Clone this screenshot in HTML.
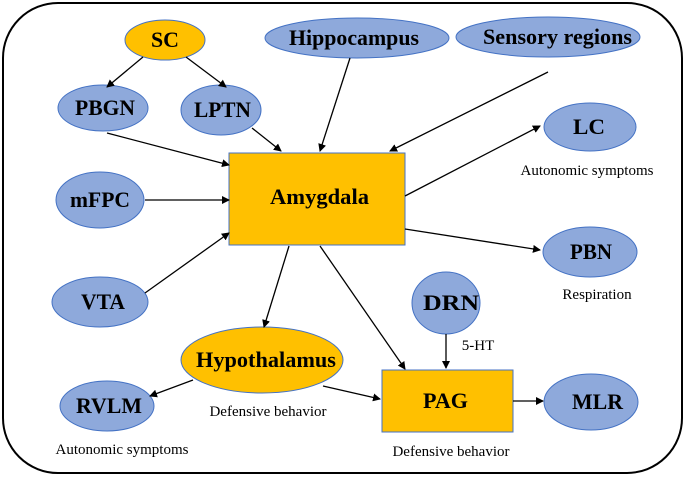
<!DOCTYPE html>
<html><head><style>body{margin:0;background:#fff}svg{display:block}</style></head><body>
<svg width="685" height="478" viewBox="0 0 685 478" xmlns="http://www.w3.org/2000/svg">
<defs><marker id="a" markerWidth="8" markerHeight="8" refX="7" refY="4" orient="auto" markerUnits="userSpaceOnUse"><path d="M0,0 L8,4 L0,8 z" fill="#000"/></marker></defs>
<rect x="3" y="3" width="679" height="470" rx="55" fill="#fff" stroke="#000" stroke-width="2"/>
<g fill="#8EA9DB" stroke="#4472C4" stroke-width="1">
<ellipse cx="357" cy="38" rx="92" ry="20"/>
<ellipse cx="548" cy="37" rx="92" ry="20"/>
<ellipse cx="103" cy="108" rx="45" ry="23"/>
<ellipse cx="221" cy="110" rx="40" ry="25"/>
<ellipse cx="590" cy="127" rx="46" ry="24"/>
<ellipse cx="100" cy="200" rx="44" ry="28"/>
<ellipse cx="590" cy="252" rx="47" ry="25"/>
<ellipse cx="100" cy="302" rx="48" ry="25"/>
<ellipse cx="446" cy="303" rx="34" ry="31"/>
<ellipse cx="107" cy="406" rx="47" ry="25"/>
<ellipse cx="591" cy="402" rx="47" ry="28"/>
</g>
<g fill="#FFC000" stroke="#4472C4" stroke-width="1">
<ellipse cx="165" cy="40" rx="40" ry="20"/>
<ellipse cx="262" cy="360" rx="81" ry="33"/>
<rect x="229" y="153" width="176" height="92"/>
<rect x="382" y="370" width="131" height="62"/>
</g>
<g stroke="#000" stroke-width="1.3" marker-end="url(#a)">
<line x1="143" y1="57" x2="107" y2="87"/>
<line x1="186" y1="57" x2="226" y2="87"/>
<line x1="350" y1="58" x2="320" y2="151"/>
<line x1="548" y1="72" x2="390" y2="151"/>
<line x1="107" y1="133" x2="229" y2="165"/>
<line x1="252" y1="128" x2="281" y2="151"/>
<line x1="145" y1="200" x2="229" y2="200"/>
<line x1="145" y1="293" x2="229" y2="233"/>
<line x1="405" y1="196" x2="540" y2="126"/>
<line x1="405" y1="229" x2="540" y2="250"/>
<line x1="289" y1="246" x2="264" y2="327"/>
<line x1="320" y1="246" x2="405" y2="369"/>
<line x1="446" y1="334" x2="446" y2="368"/>
<line x1="193" y1="380" x2="150" y2="396"/>
<line x1="323" y1="386" x2="380" y2="399"/>
<line x1="513" y1="401" x2="543" y2="401"/>
</g>
<g font-family="Liberation Serif, serif" font-weight="bold" font-size="22" fill="#000">
<text x="151" y="47" textLength="28" lengthAdjust="spacingAndGlyphs">SC</text>
<text x="289" y="45" textLength="130" lengthAdjust="spacingAndGlyphs">Hippocampus</text>
<text x="483" y="44" textLength="149" lengthAdjust="spacingAndGlyphs">Sensory regions</text>
<text x="75" y="115" textLength="60" lengthAdjust="spacingAndGlyphs">PBGN</text>
<text x="194" y="117" textLength="57" lengthAdjust="spacingAndGlyphs">LPTN</text>
<text x="573" y="134" textLength="32" lengthAdjust="spacingAndGlyphs">LC</text>
<text x="270" y="204" textLength="99" lengthAdjust="spacingAndGlyphs">Amygdala</text>
<text x="70" y="207" textLength="60" lengthAdjust="spacingAndGlyphs">mFPC</text>
<text x="570" y="259" textLength="42" lengthAdjust="spacingAndGlyphs">PBN</text>
<text x="81" y="309" textLength="44" lengthAdjust="spacingAndGlyphs">VTA</text>
<text x="423" y="310" textLength="56" lengthAdjust="spacingAndGlyphs">DRN</text>
<text x="196" y="367" textLength="140" lengthAdjust="spacingAndGlyphs">Hypothalamus</text>
<text x="76" y="413" textLength="66" lengthAdjust="spacingAndGlyphs">RVLM</text>
<text x="423" y="408" textLength="45" lengthAdjust="spacingAndGlyphs">PAG</text>
<text x="572" y="409" textLength="51" lengthAdjust="spacingAndGlyphs">MLR</text>
</g>
<g font-family="Liberation Serif, serif" font-size="15" text-anchor="middle" fill="#000">
<text x="587" y="175">Autonomic symptoms</text>
<text x="597" y="299">Respiration</text>
<text x="478" y="350">5-HT</text>
<text x="268" y="416">Defensive behavior</text>
<text x="122" y="454">Autonomic symptoms</text>
<text x="451" y="456">Defensive behavior</text>
</g>
</svg>
</body></html>
